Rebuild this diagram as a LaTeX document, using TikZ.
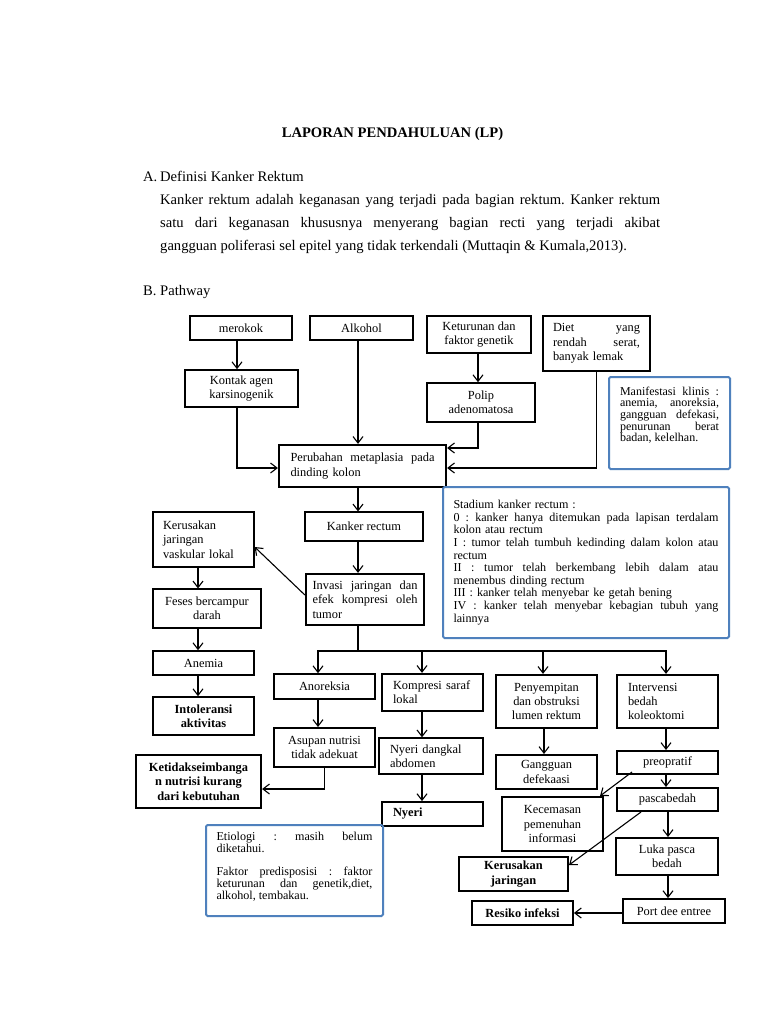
\documentclass[tikz,border=0pt]{standalone}
\usepackage{fontspec}
\setmainfont{Liberation Serif}
\usetikzlibrary{arrows.meta}
\definecolor{bl}{HTML}{4F81BD}
\frenchspacing
\newcommand\jl[2]{{\spaceskip=0pt\xspaceskip=0pt\makebox[#1][s]{#2}}}
\newcommand\bxfont{\fontsize{12.4}{14.3}\selectfont\lineskiplimit=-20pt\relax}
\newcommand\stfont{\fontsize{12.1}{12.6}\selectfont\lineskiplimit=-20pt\relax}
\newcommand\bodyfont{\fontsize{14.6}{17}\selectfont}
\begin{document}
\begin{tikzpicture}[x=1pt,y=-1pt,
  every node/.style={inner sep=0pt},
  bx/.style={draw, line width=1.2pt, align=center, font=\bxfont},
  bxm/.style={bx, line width=1.6pt},
  bxt/.style={bx, line width=2.2pt},
  bluebox/.style={draw=bl, line width=2pt, rounded corners=1.5pt, font=\bxfont},
  arr/.style={line width=1.1pt, -{Straight Barb[length=6.5pt,width=10pt]}},
  ln/.style={line width=1.1pt}]
\fill[white] (0,0) rectangle (768,1024);
\useasboundingbox (0,0) rectangle (768,1024);

% header text
\node[font=\bodyfont\bfseries, anchor=base] (title) at (392.5,138) {LAPORAN PENDAHULUAN (LP)};
\node[font=\bodyfont, anchor=base west] (secA) at (143,182) {A.};
\node[font=\bodyfont, anchor=base west] (secAt) at (160,182) {Definisi Kanker Rektum};
\node[font=\bodyfont, anchor=base west] (p1) at (160,205) {\jl{500pt}{Kanker rektum adalah keganasan yang terjadi pada bagian rektum. Kanker rektum}};
\node[font=\bodyfont, anchor=base west] (p2) at (160,228) {\jl{500pt}{satu dari keganasan khususnya menyerang bagian recti yang terjadi akibat}};
\node[font=\bodyfont, anchor=base west] (p3) at (160,250) {gangguan poliferasi sel epitel yang tidak terkendali (Muttaqin \& Kumala,2013).};
\node[font=\bodyfont, anchor=base west] (secB) at (143,295) {B.};
\node[font=\bodyfont, anchor=base west] (secBt) at (160,295) {Pathway};

% boxes
\node[bxm, minimum width=102pt, minimum height=24pt] (merokok) at (241,328) {merokok};
\node[bxm, minimum width=103pt, minimum height=24pt] (alkohol) at (361.5,328) {Alkohol};
\node[bxm, minimum width=104pt, minimum height=37pt] (ketur) at (479,334.5) {Keturunan dan\\faktor genetik};
\node[bxm, minimum width=107pt, minimum height=55pt, text width=87pt, align=left] (diet) at (596.5,343.5) {\jl{87pt}{Diet yang}\\\jl{87pt}{rendah serat,}\\banyak lemak};
\node[bxm, minimum width=113pt, minimum height=37pt] (kontak) at (241.5,388.5) {Kontak agen\\karsinogenik};
\node[bxm, minimum width=108pt, minimum height=39pt] (polip) at (481,402.5) {Polip\\adenomatosa};
\node[bluebox, minimum width=121pt, minimum height=92pt] (manif) at (669.5,423) {\parbox[c][72.4pt][t]{99pt}{\fontsize{12}{11.6}\selectfont\lineskiplimit=-20pt\relax
 \jl{99pt}{Manifestasi klinis :}\\\jl{99pt}{anemia, anoreksia,}\\\jl{99pt}{gangguan defekasi,}\\\jl{99pt}{penurunan berat}\\badan, kelelhan.}};
\node[bxt, minimum width=167pt, minimum height=42pt, text width=144pt, align=left] (perub) at (362.5,466) {\jl{144pt}{Perubahan metaplasia pada}\\dinding kolon};
\node[bluebox, minimum width=286pt, minimum height=151pt, text width=265pt, align=left, font=\stfont] (stad) at (586,562.5) {Stadium kanker rectum :\\\jl{265pt}{0 : kanker hanya ditemukan pada lapisan terdalam}\\kolon atau rectum\\\jl{265pt}{I : tumor telah tumbuh kedinding dalam kolon atau}\\rectum\\\jl{265pt}{II : tumor telah berkembang lebih dalam atau}\\menembus dinding rectum\\III : kanker telah menyebar ke getah bening\\\jl{265pt}{IV : kanker telah menyebar kebagian tubuh yang}\\lainnya};
\node[bx, line width=1.1pt, minimum width=118pt, minimum height=29pt] (kanker) at (364,526.5) {Kanker rectum};
\node[bx, line width=1.3pt, minimum width=101pt, minimum height=55pt, text width=81pt, align=left] (kerus) at (203.5,539.5) {Kerusakan\\jaringan\\vaskular lokal};
\node[bxt, minimum width=118pt, minimum height=51pt, text width=105pt, align=left] (invasi) at (365,599.5) {\jl{105pt}{Invasi jaringan dan}\\\jl{105pt}{efek kompresi oleh}\\tumor};
\node[bx, line width=1.1pt, minimum width=108pt, minimum height=39pt] (feses) at (207,608.5) {Feses bercampur\\darah};
\node[bxm, minimum width=101pt, minimum height=24pt] (anemia) at (203.5,663) {Anemia};
\node[bxm, minimum width=101pt, minimum height=38pt, font=\bxfont\bfseries] (intol) at (203.5,716) {Intoleransi\\aktivitas};
\node[bxm, minimum width=101pt, minimum height=25pt] (anor) at (324.5,686.5) {Anoreksia};
\node[bxt, minimum width=101pt, minimum height=37pt, text width=79pt, align=left] (kompresi) at (432.5,692.5) {Kompresi saraf\\lokal};
\node[bxt, minimum width=101pt, minimum height=53pt] (penyemp) at (546.5,701.5) {Penyempitan\\dan obstruksi\\lumen rektum};
\node[bxt, minimum width=101pt, minimum height=53pt, text width=79pt, align=left] (interv) at (667.5,701.5) {Intervensi\\bedah\\koleoktomi};
\node[bxt, line width=2pt, minimum width=101pt, minimum height=39pt] (asupan) at (324.5,747.5) {Asupan nutrisi\\tidak adekuat};
\node[bx, line width=1.3pt, minimum width=104pt, minimum height=36pt, text width=82pt, align=left] (nyerid) at (431,756) {Nyeri dangkal\\abdomen};
\node[bxt, minimum width=125pt, minimum height=53pt, font=\bxfont\bfseries] (ketid) at (198.5,781.5) {Ketidakseimbanga\\n nutrisi kurang\\dari kebutuhan};
\node[bxt, line width=2pt, minimum width=101pt, minimum height=34pt] (ganggu) at (546.5,772) {Gangguan\\defekaasi};
\node[bxt, line width=2pt, minimum width=101pt, minimum height=23pt] (preop) at (667.5,762.5) {preopratif};
\node[bxt, line width=2pt, minimum width=101pt, minimum height=23pt] (pasca) at (667.5,799.5) {pascabedah};
\node[bxt, line width=2pt, minimum width=101pt, minimum height=54pt] (kecem) at (552.5,824) {Kecemasan\\pemenuhan\\informasi};
\node[bxm, line width=1.8pt, minimum width=101pt, minimum height=24pt, text width=79pt, align=left, font=\bxfont\bfseries] (nyeri) at (432.5,814) {Nyeri};
\node[bluebox, minimum width=177pt, minimum height=91pt] (etiol) at (294.5,870.5) {\parbox[c][77pt][t]{156pt}{\fontsize{12.1}{12.2}\selectfont\lineskiplimit=-20pt\relax
 \jl{156pt}{Etiologi : masih belum}\\diketahui.\\[10.5pt]\jl{156pt}{Faktor predisposisi : faktor}\\\jl{156pt}{keturunan dan genetik,diet,}\\alkohol, tembakau.}};
\node[bxt, line width=2pt, minimum width=109pt, minimum height=34pt, font=\bxfont\bfseries] (kerusj) at (513.5,874) {Kerusakan\\jaringan};
\node[bxt, line width=2pt, minimum width=102pt, minimum height=37pt] (luka) at (667,856.5) {Luka pasca\\bedah};
\node[bxm, line width=1.8pt, minimum width=102pt, minimum height=24pt] (port) at (674,911) {Port dee entree};
\node[bxm, line width=1.8pt, minimum width=101pt, minimum height=24pt, font=\bxfont\bfseries] (resiko) at (522.5,913) {Resiko infeksi};

% connectors
\draw[arr] ([xshift=-4pt]merokok.south) -- ([xshift=-4.5pt]kontak.north);
\draw[arr] ([xshift=-3.5pt]alkohol.south) -- ([xshift=-4.5pt]perub.north);
\draw[arr] ([xshift=-4.5pt]kontak.south) |- ([yshift=-2pt]perub.west);
\draw[arr] ([xshift=-1pt]ketur.south) -- ([xshift=-3pt]polip.north);
\draw[arr] ([xshift=-3pt]polip.south) |- ([yshift=18pt]perub.east);
\draw[arr] (diet.south) |- ([yshift=-2pt]perub.east);
\draw[arr] ([xshift=-4.5pt]perub.south) -- ([xshift=-6pt]kanker.north);
\draw[arr] ([xshift=-6pt]kanker.south) -- ([xshift=-7pt]invasi.north);
\draw[arr] ([yshift=4.5pt]invasi.west) -- ([yshift=-7.5pt]kerus.east);
\draw[arr] ([xshift=-5.5pt]kerus.south) -- ([xshift=-9pt]feses.north);
\draw[arr] ([xshift=-9pt]feses.south) -- ([xshift=-5.5pt]anemia.north);
\draw[arr] ([xshift=-5.5pt]anemia.south) -- ([xshift=-5.5pt]intol.north);
\coordinate (br) at (358,651);
\draw[ln] ([xshift=-7pt]invasi.south) -- (br);
\draw[arr] (br) -| ([xshift=-6.5pt]anor.north);
\draw[arr] (br) -| ([xshift=-10.5pt]kompresi.north);
\draw[arr] (br) -| ([xshift=-3.5pt]penyemp.north);
\draw[arr] (br) -| ([xshift=-1.5pt]interv.north);
\draw[arr] ([xshift=-6.5pt]anor.south) -- ([xshift=-6.5pt]asupan.north);
\draw[arr] (asupan.south) |- ([yshift=-7.5pt]ketid.east);
\draw[arr] ([xshift=-10.5pt]kompresi.south) -- ([xshift=-9pt]nyerid.north);
\draw[arr] ([xshift=-9pt]nyerid.south) -- ([xshift=-10.5pt]nyeri.north);
\draw[arr] ([xshift=-2.5pt]penyemp.south) -- ([xshift=-2.5pt]ganggu.north);
\draw[arr] ([xshift=-1.5pt]interv.south) -- ([xshift=-1.5pt]preop.north);
\draw[arr] ([xshift=-1.5pt]preop.south) -- ([xshift=-1.5pt]pasca.north);
\draw[arr] ([xshift=16pt,yshift=3pt]preop.south west) -- ([xshift=-4pt]kecem.north east);
\draw[arr] ([xshift=25pt]pasca.south west) -- ([yshift=9pt]kerusj.east);
\draw[arr] ([xshift=0.5pt]pasca.south) -- ([xshift=1pt]luka.north);
\draw[arr] ([xshift=1pt]luka.south) -- ([xshift=-6pt]port.north);
\draw[arr] ([yshift=-2pt]port.west) -- (resiko.east);
\end{tikzpicture}
\end{document}
